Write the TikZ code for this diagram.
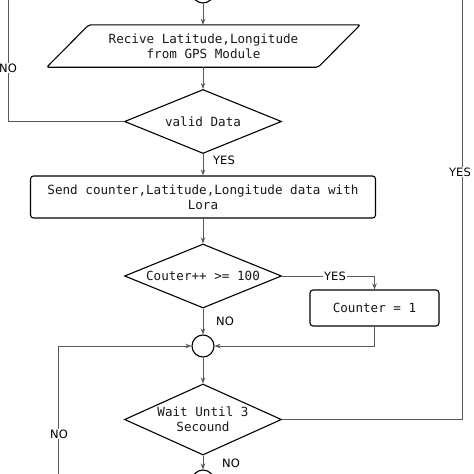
\documentclass[tikz,border=0pt]{standalone}
\usepackage{fontspec}
\newfontfamily\boxfont{DejaVu Sans Mono}
\newfontfamily\lblfont{DejaVu Sans}
\usetikzlibrary{shapes.geometric,arrows.meta,calc}
\tikzset{
  shp/.style={draw=black,line width=1.1pt},
  txt/.style={font=\boxfont\fontsize{12.6}{15}\selectfont,align=center,text=black!90},
  dia/.style={shp,diamond,inner sep=0pt,minimum width=157pt,minimum height=64pt},
  rbox/.style={shp,rectangle,rounded corners=3pt,inner sep=0pt},
  conn/.style={draw=black!65,line width=0.9pt},
  arr/.style={conn,-{Stealth[length=6pt,width=4.5pt]}},
  lbl/.style={font=\lblfont\fontsize{11.5}{12}\selectfont,fill=white,inner sep=1pt,text=black},
  jn/.style={shp,circle,minimum size=22pt,inner sep=0pt},
}
\begin{document}
\begin{tikzpicture}[x=1pt,y=-1pt]
\useasboundingbox (0,0) rectangle (474,474);
\clip (0,0) rectangle (474,474);
\fill[white] (0,0) rectangle (474,474);
% nodes
\node[jn] (c0) at (203,-8) {};
\node[txt,minimum width=271pt,minimum height=42pt,inner sep=0pt] (p) at (203.5,46) {Recive Latitude,Longitude\\from GPS Module};
\draw[shp,rounded corners=2pt] ([xshift=21pt]p.north west) -- ([xshift=21pt]p.north east) -- ([xshift=-21pt]p.south east) -- ([xshift=-21pt]p.south west) -- cycle;
\node[dia,label={[txt]center:valid Data}] (d1) at (203,121.5) {};
\node[rbox,minimum width=345pt,minimum height=42pt,txt] (r1) at (203,197) {Send counter,Latitude,Longitude data with\\Lora};
\node[dia,label={[txt]center:Couter++ >= 100}] (d2) at (203,276) {};
\node[rbox,minimum width=129pt,minimum height=36pt,txt] (r2) at (374.5,308) {Counter = 1};
\node[jn] (c1) at (203,346) {};
\node[dia,minimum height=71pt,label={[txt]center:Wait Until 3\\Secound}] (d3) at (203,419.5) {};
\node[jn] (c2) at (203,481) {};
% connectors
\draw[arr] (c0.south) -- (c0.south |- p.north);
\draw[arr] (p.south -| d1.north) -- (d1.north);
\draw[arr] (d1.south) -- (r1.north);
\draw[arr] (d1.west) -- ++(-116,0) |- (c0.west);
\draw[arr] (d3.east) -- ++(180,0) |- (c0.east);
\draw[arr] (r1.south) -- (d2.north);
\draw[arr] (d2.east) -| (r2.north);
\draw[arr] (d2.south) -- (c1.north);
\draw[arr] (r2.south) |- (c1.east);
\draw[arr] (c2.west) -- ++(-133,0) |- (c1.west);
\draw[arr] (c1.south) -- (d3.north);
\draw[arr] (d3.south) -- (c2.north);
% labels
\node[lbl] (l1) at (8,68) {NO};
\node[lbl,fill=none] (l2) at (224,160) {YES};
\node[lbl] (l3) at (460,172) {YES};
\node[lbl] (l4) at (335,276) {YES};
\node[lbl,fill=none] (l5) at (225,321) {NO};
\node[lbl] (l6) at (59,434) {NO};
\node[lbl,fill=none] (l7) at (231,463) {NO};
\end{tikzpicture}
\end{document}
